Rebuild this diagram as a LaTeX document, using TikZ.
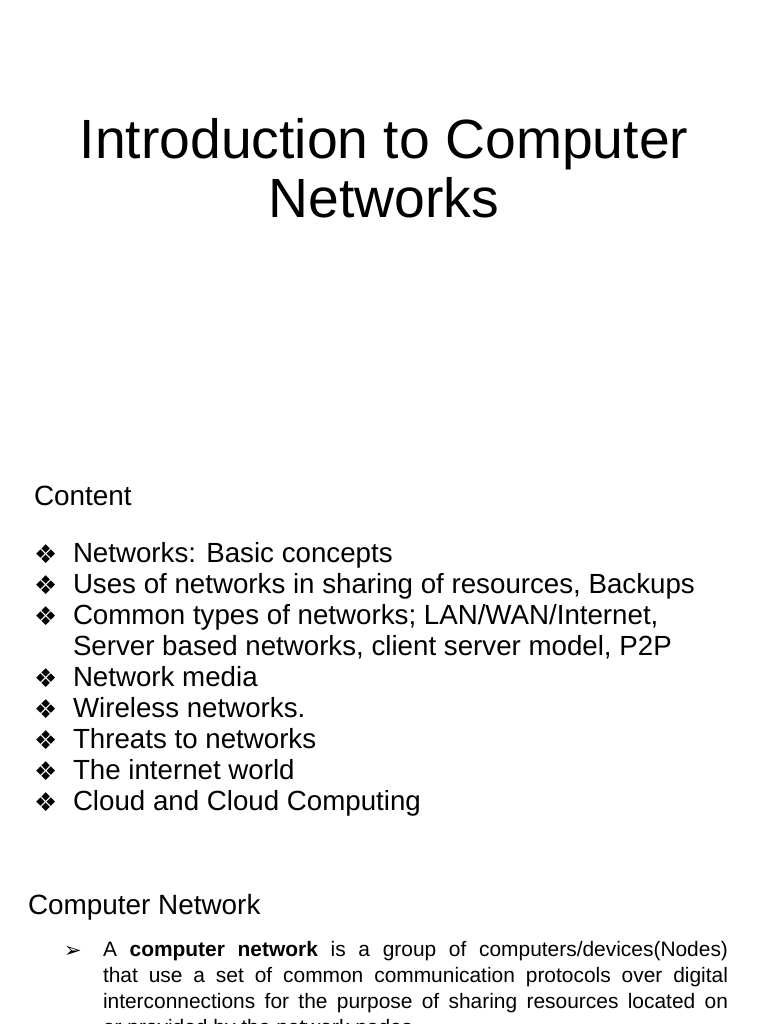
\documentclass[tikz,border=0pt]{standalone}
\usepackage{fontspec}
\setmainfont{Liberation Sans}
\newfontfamily\symf{DejaVu Sans}
\begin{document}
\begin{tikzpicture}[x=1bp,y=-1bp,
  every node/.style={inner sep=0pt,outer sep=0pt},
  ttl/.style={anchor=base,font=\fontsize{55.5}{60}\selectfont},
  hd/.style={anchor=base west,font=\fontsize{28}{30}\selectfont},
  bl/.style={anchor=base west,font=\fontsize{27.8}{30}\selectfont},
  bs/.style={anchor=base west,font=\symf\fontsize{26}{30}\selectfont},
  as/.style={anchor=base west,font=\symf\fontsize{21}{26}\selectfont},
  pl/.style={anchor=base west,font=\fontsize{21}{26}\selectfont}]
\useasboundingbox (0,0) rectangle (768,1024);
\node[ttl] (t1) at (384,158) {Introduction to Computer};
\node[ttl] (t2) at (384,217) {Networks};
\node[hd] (h1) at (34,505) {Content};
\foreach \t [count=\i] in {Networks: Basic concepts,
  {Uses of networks in sharing of resources, Backups},
  {Common types of networks; LAN/WAN/Internet,},
  {Server based networks, client server model, P2P},
  Network media, Wireless networks., Threats to networks,
  The internet world, Cloud and Cloud Computing}{
  \pgfmathsetmacro\yy{562+31*(\i-1)}
  \node[bl] (b\i) at (73,\yy) {\t};
}
\foreach \i/\j in {1/1,2/2,3/3,5/4,6/5,7/6,8/7,9/8}{
  \pgfmathsetmacro\yy{563+31*(\i-1)}
  \node[bs] (s\j) at (34,\yy) {❖};
}
\node[hd] (h2) at (28,914) {Computer Network};
\node[as] (ar) at (64,957) {➢};
\node[pl] (p1) at (103,956) {\makebox[625bp][s]{A \textbf{computer network} is a group of computers/devices(Nodes)}};
\node[pl] (p2) at (103,982) {\makebox[625bp][s]{that use a set of common communication protocols over digital}};
\node[pl] (p3) at (103,1008) {\makebox[625bp][s]{interconnections for the purpose of sharing resources located on}};
\node[pl] (p4) at (103,1034) {or provided by the network nodes.};
\end{tikzpicture}
\end{document}
